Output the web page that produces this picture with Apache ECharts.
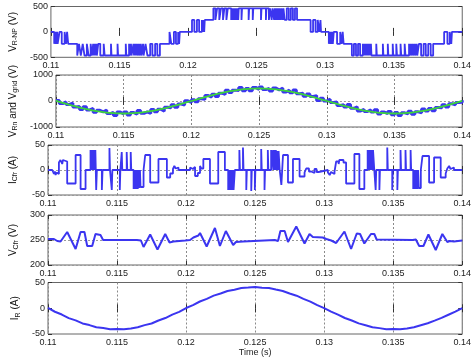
<!DOCTYPE html>
<html><head><meta charset="utf-8">
<script src="https://cdn.jsdelivr.net/npm/echarts@6/dist/echarts.min.js"></script>
<style>html,body{margin:0;padding:0;background:#fff}#c{width:474px;height:360px}</style>
</head><body><div id="c"></div>
<script>
// ---------- data ----------
const timeRange = [0.11, 0.14];
const timeStep = 0.005;

// Panel 1: V_R-NP (V), step transitions [time, level]
const vrnpSteps = [
[0.11000,0],[0.11024,-235],[0.11029,0],[0.11032,-235],[0.11037,0],[0.11040,-235],[0.11046,0],[0.11049,-235],[0.11063,0],[0.11079,-235],[0.11100,0],[0.11110,-235],[0.11118,0],[0.11126,-235],
[0.11192,-465],[0.11205,-235],[0.11218,-465],[0.11232,-235],[0.11245,-465],[0.11262,-235],[0.11275,-465],[0.11290,-235],[0.11300,-465],[0.11308,-235],[0.11311,-465],[0.11320,-235],[0.11323,-465],[0.11332,-235],[0.11335,-465],[0.11345,-235],[0.11360,-465],[0.11385,-235],[0.11392,-465],[0.11438,-235],[0.11442,-465],[0.11486,-235],[0.11490,-465],[0.11546,-235],[0.11550,-465],[0.11570,-235],[0.11574,-465],[0.11584,-235],[0.11588,-465],[0.11602,-235],[0.11606,-465],[0.11615,-235],[0.11619,-465],[0.11628,-235],[0.11632,-465],[0.11642,-235],[0.11646,-465],[0.11656,-235],[0.11660,-465],[0.11672,-235],[0.11676,-465],[0.11690,-235],[0.11704,-465],[0.11724,-235],[0.11740,-465],[0.11760,-235],[0.11776,-465],[0.11795,-235],
[0.11865,0],[0.11878,-235],[0.11897,0],[0.11912,-235],[0.11928,0],[0.11935,-235],[0.11940,0],
[0.12029,235],[0.12046,0],[0.12065,235],[0.12081,0],[0.12101,235],[0.12108,0],[0.12112,235],[0.12118,0],[0.12122,235],
[0.12185,465],[0.12200,235],[0.12212,465],[0.12228,235],[0.12240,465],[0.12255,235],[0.12265,465],[0.12280,235],[0.12290,465],[0.12315,235],[0.12320,465],[0.12325,235],[0.12330,465],[0.12335,235],[0.12340,465],[0.12345,235],[0.12350,465],[0.12356,235],[0.12360,465],[0.12366,235],[0.12370,465],[0.12390,235],[0.12394,465],[0.12442,235],[0.12446,465],[0.12472,235],[0.12476,465],[0.12532,235],[0.12536,465],[0.12568,235],[0.12572,465],[0.12590,235],[0.12598,465],[0.12610,235],[0.12616,465],[0.12628,235],[0.12632,465],[0.12640,235],[0.12644,465],[0.12652,235],[0.12656,465],[0.12664,235],[0.12668,465],[0.12678,235],[0.12682,465],[0.12692,235],[0.12696,465],[0.12705,235],[0.12720,465],[0.12735,235],[0.12750,465],[0.12765,235],[0.12780,465],[0.12795,235],
[0.12894,0],[0.12912,235],[0.12930,0],[0.12946,235],[0.12958,0],[0.12966,235],[0.12970,0],
[0.13027,-235],[0.13032,0],[0.13036,-235],[0.13041,0],[0.13045,-235],[0.13052,0],[0.13056,-235],[0.13063,0],[0.13087,-235],[0.13110,0],[0.13120,-235],[0.13128,0],[0.13135,-235],
[0.13195,-465],[0.13210,-235],[0.13225,-465],[0.13240,-235],[0.13255,-465],[0.13275,-235],[0.13280,-465],[0.13288,-235],[0.13292,-465],[0.13300,-235],[0.13304,-465],[0.13312,-235],[0.13316,-465],[0.13325,-235],[0.13330,-465],[0.13334,-235],[0.13338,-465],[0.13373,-235],[0.13377,-465],[0.13421,-235],[0.13425,-465],[0.13457,-235],[0.13461,-465],[0.13493,-235],[0.13497,-465],[0.13519,-235],[0.13524,-465],[0.13550,-235],[0.13555,-465],[0.13580,-235],[0.13586,-465],[0.13612,-235],[0.13616,-465],[0.13626,-235],[0.13630,-465],[0.13640,-235],[0.13644,-465],[0.13654,-235],[0.13658,-465],[0.13668,-235],[0.13672,-465],[0.13684,-235],[0.13700,-465],[0.13718,-235],[0.13734,-465],[0.13752,-235],[0.13770,-465],[0.13788,-235],
[0.13868,0],[0.13892,-235],[0.13909,0],[0.13920,-235],[0.13925,0],[0.14000,0]
];

// Panel 2: V_Rn (blue) every 0.25 ms, V_grid (green) every 0.5 ms
const vrnStep = 0.00025;
const vrnValues = [20,-98,-35,-132,-78,-234,-208,-331,-222,-342,-289,-435,-358,-420,-348,-484,-436,-557,-424,-499,-420,-539,-444,-507,-366,-474,-418,-480,-328,-415,-319,-392,-242,-261,-148,-244,-118,-152,5,-58,50,-32,85,62,208,154,258,171,302,252,409,325,418,400,518,394,476,397,524,449,540,439,484,387,496,424,498,350,418,315,419,282,302,181,268,174,208,22,105,-2,70,-58,-35,-172,-138,-234,-138,-281,-222,-382,-319,-405,-338,-420,-338,-504,-426,-487,-404,-529,-440,-559,-454,-497,-396,-514,-418,-450,-308,-385,-289,-372,-252,-261,-148,-234,-108,-142,-55,-48,30];
const vgridStep = 0.0005;
const vgridValues = [15,-75,-148,-218,-282,-339,-388,-428,-456,-474,-480,-474,-456,-428,-388,-339,-282,-218,-148,-75,0,75,148,218,282,339,388,428,456,474,480,474,456,428,388,339,282,218,148,75,0,-75,-148,-218,-282,-339,-388,-428,-456,-474,-480,-474,-456,-428,-388,-339,-282,-218,-148,-75,5];

// Panel 3: I_Cfr (A), step transitions [time, value]
const icfrSteps = [
[0.11000,0],[0.11031,-4],[0.11043,-8],[0.11050,-3],[0.11055,-10],[0.11063,-5],[0.11072,-8],[0.11079,15],[0.11090,20],[0.11103,12],[0.11108,20],[0.11118,17],[0.11139,-27],[0.11200,30],[0.11236,-38],[0.11272,0],
[0.11308,40],[0.11313,0],[0.11316,40],[0.11322,0],[0.11325,40],[0.11331,0],[0.11334,40],[0.11340,0],[0.11343,40],[0.11349,-40],[0.11354,0],
[0.11390,-40],[0.11395,0],[0.11445,44],[0.11449,0],[0.11462,-40],[0.11466,0],
[0.11520,-40],[0.11524,0],[0.11534,36],[0.11538,0],[0.11570,36],[0.11574,0],[0.11599,36],[0.11603,0],
[0.11620,-38],[0.11625,0],[0.11630,-38],[0.11636,0],[0.11640,-38],[0.11646,0],[0.11650,-38],[0.11656,0],[0.11660,-36],[0.11666,0],[0.11670,-34],[0.11692,0],
[0.11704,30],[0.11740,-25],[0.11800,22],[0.11861,-15],[0.11885,-7],[0.11905,2],[0.11915,8],[0.11925,3],[0.11935,5],[0.11945,0],
[0.12029,5],[0.12040,2],[0.12050,6],[0.12065,-12],[0.12085,-6],[0.12101,8],[0.12110,3],[0.12125,22],[0.12173,-27],[0.12233,36],[0.12281,0],
[0.12305,-40],[0.12310,0],[0.12314,-40],[0.12320,0],[0.12324,-40],[0.12330,0],[0.12334,-40],[0.12340,0],[0.12344,-40],[0.12353,0],
[0.12386,40],[0.12390,0],[0.12412,45],[0.12416,0],[0.12436,-40],[0.12440,0],[0.12472,-42],[0.12476,0],[0.12498,-40],[0.12502,0],[0.12544,42],[0.12548,0],[0.12568,-40],[0.12572,0],[0.12592,40],[0.12596,0],[0.12616,40],[0.12620,0],
[0.12630,40],[0.12636,0],[0.12640,40],[0.12646,0],[0.12650,40],[0.12656,0],[0.12660,38],[0.12666,0],[0.12670,38],[0.12678,0],[0.12690,-30],[0.12702,30],[0.12738,-25],[0.12774,22],[0.12822,-13],[0.12858,-5],[0.12870,3],[0.12890,-3],[0.12906,-6],[0.12930,2],[0.12945,-4],[0.12960,0],
[0.13027,-5],[0.13040,-10],[0.13050,-4],[0.13060,-8],[0.13075,-3],[0.13087,17],[0.13105,12],[0.13110,20],[0.13140,15],[0.13159,-27],[0.13219,32],[0.13255,-38],[0.13291,0],
[0.13315,40],[0.13320,0],[0.13324,40],[0.13330,0],[0.13334,40],[0.13340,0],[0.13344,40],[0.13350,0],[0.13354,40],[0.13363,0],
[0.13373,-40],[0.13377,0],[0.13400,-40],[0.13404,0],[0.13457,45],[0.13461,0],[0.13493,-40],[0.13497,0],[0.13530,-40],[0.13534,0],[0.13553,40],[0.13557,0],[0.13589,40],[0.13593,0],[0.13626,40],[0.13630,0],
[0.13645,-38],[0.13650,0],[0.13655,-38],[0.13660,0],[0.13665,-38],[0.13670,0],[0.13675,-38],[0.13680,0],[0.13685,-36],[0.13700,0],
[0.13712,28],[0.13760,-25],[0.13796,25],[0.13844,-15],[0.13880,-7],[0.13892,3],[0.13905,8],[0.13915,2],[0.13925,5],[0.13940,0],[0.14000,0]
];

// Panel 4: V_Cfr (V), vertices [time, value]
const vcfrPoints = [
[0.11000,252],[0.11043,252],[0.11067,248],[0.11091,247],[0.11103,244],[0.11139,266],[0.11200,232],[0.11236,266],[0.11264,266],[0.11284,238],[0.11320,238],[0.11344,262],[0.11380,260],[0.11399,250],
[0.11644,250],[0.11656,247],[0.11673,249],[0.11692,236],[0.11740,261],[0.11793,231],[0.11849,262],[0.11880,245],[0.11909,247],[0.11993,249],[0.12029,250],[0.12053,255],[0.12089,259],[0.12101,264],[0.12149,237],[0.12209,274],[0.12245,238],[0.12288,268],[0.12341,240],[0.12361,246],[0.12414,247],[0.12426,250],
[0.12642,250],[0.12666,248],[0.12683,268],[0.12714,268],[0.12738,246],[0.12798,277],[0.12858,243],[0.12894,262],[0.12918,256],[0.12990,255],[0.13015,252],[0.13051,249],[0.13087,244],[0.13147,267],[0.13195,232],[0.13236,263],[0.13260,262],[0.13291,243],[0.13339,262],[0.13363,262],[0.13380,251],
[0.13640,250],[0.13652,248],[0.13664,251],[0.13676,249],[0.13688,238],[0.13719,238],[0.13755,261],[0.13808,230],[0.13856,262],[0.13892,246],[0.13909,248],[0.13940,247],[0.14000,249]
];

// Panel 5: I_R (A) every 0.5 ms
const irStep = 0.0005;
const irValues = [0.5,-6.8,-12.2,-19.1,-23.6,-29.5,-32.7,-36.9,-38.5,-40.8,-40.2,-41.0,-39.4,-37.0,-32.8,-29.6,-23.8,-19.0,-12.3,-6.9,0.4,6.0,13.1,18.2,24.5,28.6,33.6,36.1,39.4,40.2,41.2,40.0,39.3,36.3,33.5,28.7,24.4,18.3,13.0,6.1,0.3,-6.7,-12.4,-18.9,-23.8,-29.4,-32.9,-36.8,-38.6,-40.7,-40.3,-40.9,-39.2,-36.8,-33.0,-29.2,-24.0,-18.7,-12.6,-6.5,0.2];

// Axis ranges / tick labels [min, max, interval]
const yRanges = [[-500,500,500],[-1000,1000,1000],[-50,50,50],[200,300,50],[-50,50,50]];
const yNames = [
  '{m|V}{s|R-NP}{m| (V)}',
  '{m|V}{s|Rn}{m| and V}{s|grid}{m| (V)}',
  '{m|I}{s|Cfr}{m| (A)}',
  '{m|V}{s|Cfr}{m| (V)}',
  '{m|I}{s|R}{m| (A)}'
];
const xName = 'Time (s)';

// ---------- chart ----------
const FONT = 'Liberation Sans, Arial, sans-serif';
const BLUE = '#3b35f0';
const GREEN = '#3cd43c';
const tops = [6.5, 75, 145, 215, 282.5];
const heights = [50.8, 52, 50, 50, 51.5];
const nameGaps = [28, 33, 29, 28, 26];
const xGrid = [false, true, true, true, true];
const yGrid = [false, true, true, true, false];

const sampled = (t0, dt, vals) => vals.map((v, i) => [+(t0 + i * dt).toFixed(6), v]);

const grids = [], xAxes = [], yAxes = [];
for (let i = 0; i < 5; i++) {
  grids.push({left: 48, right: 10, top: tops[i], height: heights[i], show: true, borderColor: '#666', borderWidth: 1});
  xAxes.push({
    gridIndex: i, type: 'value', min: timeRange[0], max: timeRange[1], interval: timeStep,
    axisLine: {show: false},
    axisTick: {inside: true, length: 4, lineStyle: {color: '#333'}},
    axisLabel: {fontSize: 9, fontFamily: FONT, color: '#222', margin: 4, formatter: v => String(parseFloat(v.toFixed(3)))},
    splitLine: {show: xGrid[i], lineStyle: {type: [2, 2], color: '#8a8a8a', width: 1}},
    name: i === 4 ? xName : '', nameLocation: 'middle', nameGap: 14,
    nameTextStyle: {fontSize: 9, fontFamily: FONT, color: '#222'}
  });
  xAxes.push({
    gridIndex: i, type: 'value', position: 'top', min: timeRange[0], max: timeRange[1], interval: timeStep,
    axisLine: {show: false}, axisLabel: {show: false}, splitLine: {show: false},
    axisTick: {inside: true, length: 4, lineStyle: {color: '#333'}}
  });
  yAxes.push({
    gridIndex: i, type: 'value', min: yRanges[i][0], max: yRanges[i][1], interval: yRanges[i][2],
    axisLine: {show: false},
    axisTick: {inside: true, length: 4, lineStyle: {color: '#333'}},
    axisLabel: {fontSize: 9, fontFamily: FONT, color: '#222', margin: 3, formatter: v => String(v)},
    splitLine: {show: yGrid[i], lineStyle: {type: [2, 2], color: '#9a9a9a', width: 1}},
    name: yNames[i], nameLocation: 'middle', nameGap: nameGaps[i],
    nameTextStyle: {
      fontSize: 10, fontFamily: FONT, color: '#111',
      rich: {
        m: {fontSize: 10, fontFamily: FONT, color: '#111'},
        s: {fontSize: 7, fontFamily: FONT, color: '#111', verticalAlign: 'top', padding: [5, 0, 0, 0]}
      }
    }
  });
  yAxes.push({
    gridIndex: i, type: 'value', position: 'right', min: yRanges[i][0], max: yRanges[i][1], interval: yRanges[i][2],
    axisLine: {show: false}, axisLabel: {show: false}, splitLine: {show: false},
    axisTick: {inside: true, length: 4, lineStyle: {color: '#333'}}
  });
}

const lineBase = {type: 'line', showSymbol: false, symbol: 'none', animation: false, silent: true};
const series = [
  Object.assign({}, lineBase, {xAxisIndex: 0, yAxisIndex: 0, step: 'end', data: vrnpSteps, lineStyle: {color: BLUE, width: 1.8}}),
  Object.assign({}, lineBase, {xAxisIndex: 2, yAxisIndex: 2, step: 'end', data: sampled(timeRange[0], vrnStep, vrnValues), lineStyle: {color: BLUE, width: 3}}),
  Object.assign({}, lineBase, {xAxisIndex: 2, yAxisIndex: 2, data: sampled(timeRange[0], vgridStep, vgridValues), lineStyle: {color: GREEN, width: 1.8}, smooth: 0.3}),
  Object.assign({}, lineBase, {xAxisIndex: 4, yAxisIndex: 4, step: 'end', data: icfrSteps, lineStyle: {color: BLUE, width: 1.8}}),
  Object.assign({}, lineBase, {xAxisIndex: 6, yAxisIndex: 6, data: vcfrPoints, lineStyle: {color: BLUE, width: 2}}),
  Object.assign({}, lineBase, {xAxisIndex: 8, yAxisIndex: 8, data: sampled(timeRange[0], irStep, irValues), lineStyle: {color: BLUE, width: 2}})
];

const chart = echarts.init(document.getElementById('c'), null, {renderer: 'canvas'});
chart.setOption({animation: false, backgroundColor: '#fff', grid: grids, xAxis: xAxes, yAxis: yAxes, series: series});
</script>
</body></html>
